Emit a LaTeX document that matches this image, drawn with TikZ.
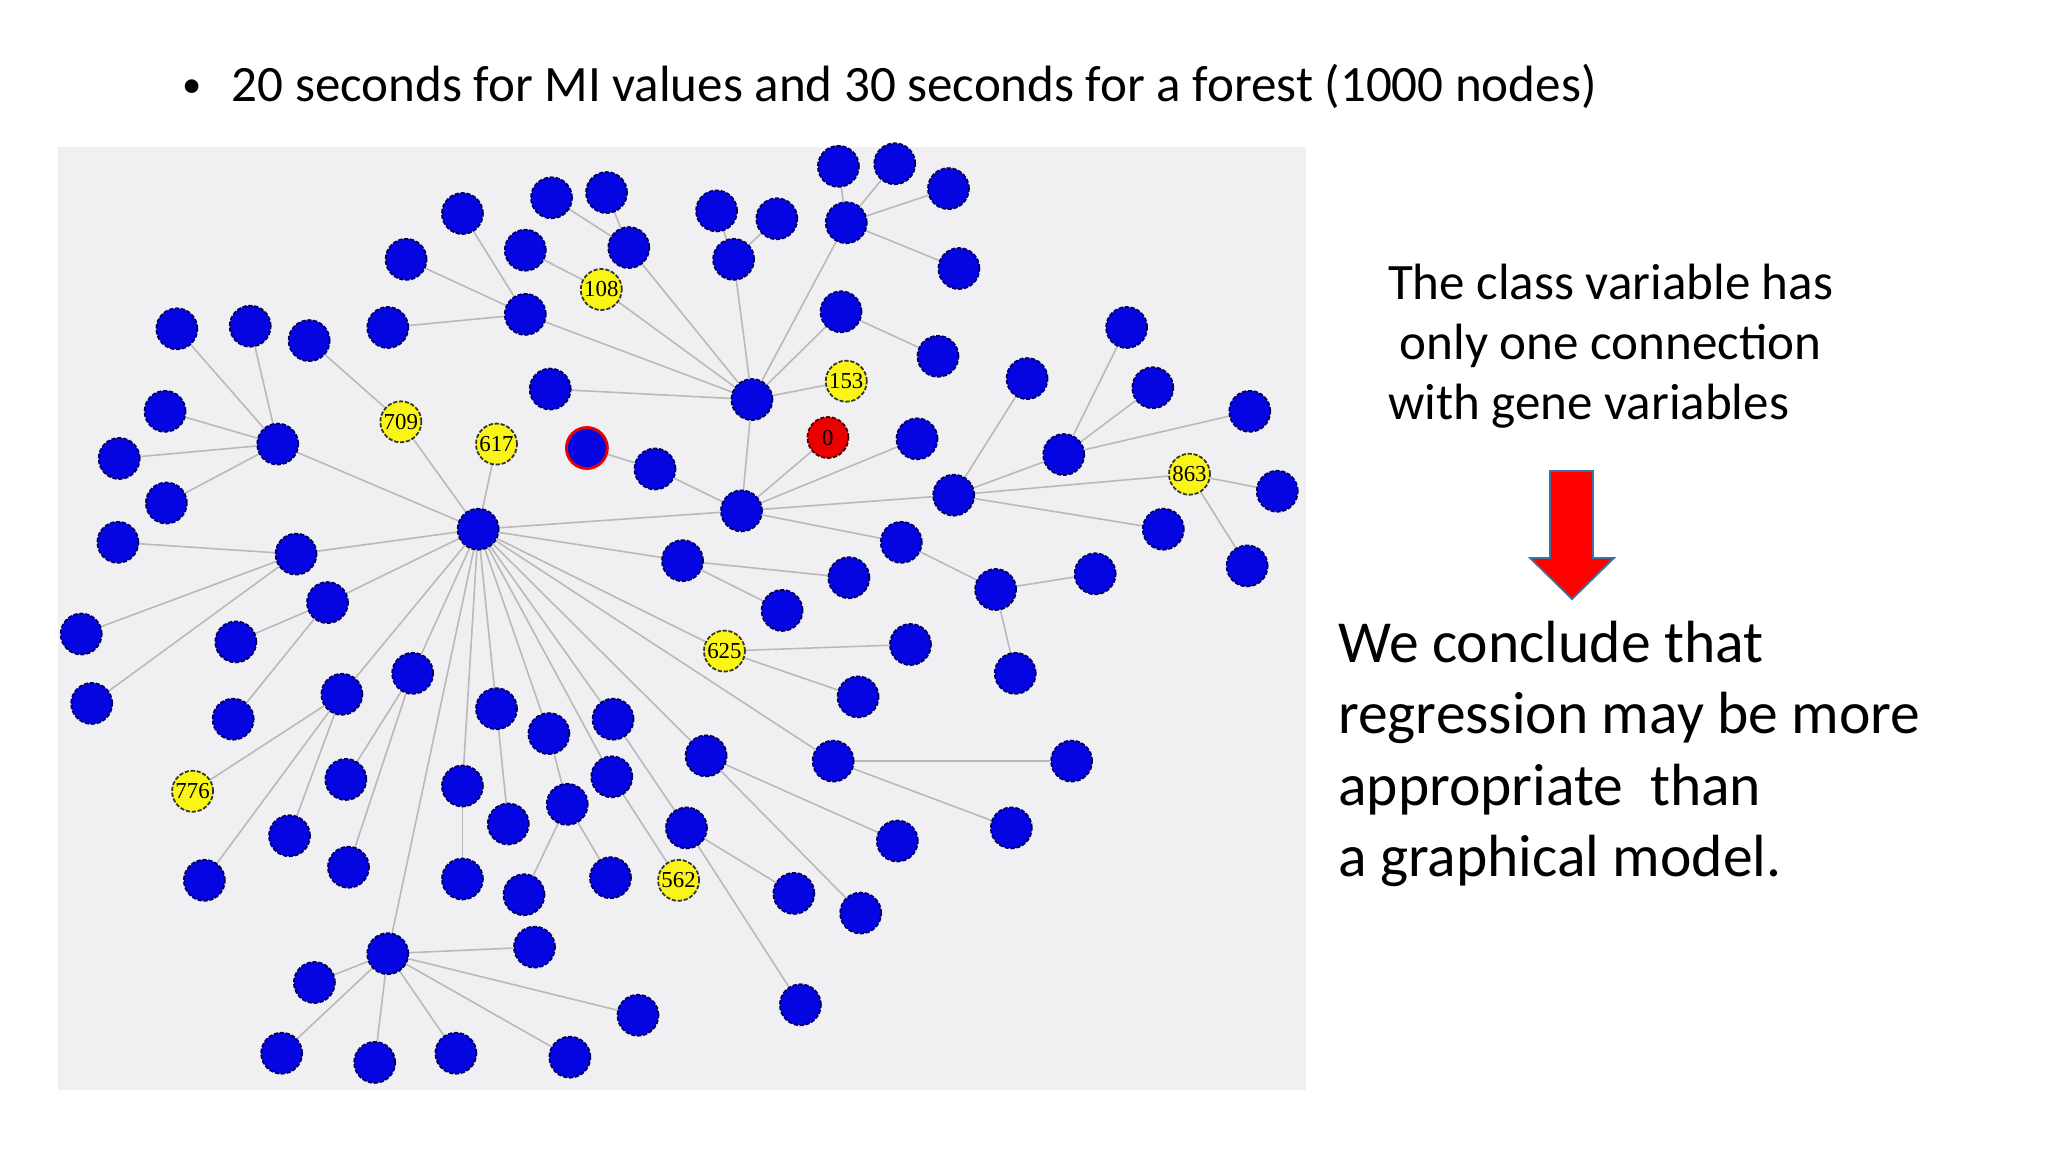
\documentclass[tikz,border=0pt]{standalone}
\usepackage{fontspec}
\setmainfont{Carlito}
\newfontfamily\gfont{Liberation Serif}
\usetikzlibrary{backgrounds}
\definecolor{nodeblue}{RGB}{5,5,225}
\definecolor{nodeedge}{RGB}{0,0,95}
\definecolor{nodeyel}{RGB}{250,245,20}
\definecolor{nodered}{RGB}{235,0,0}
\definecolor{panelgray}{RGB}{240,240,242}
\definecolor{edgegray}{RGB}{185,185,185}
\definecolor{arrowedge}{RGB}{65,113,156}
\tikzset{%
    bnodesty/.style={
        circle,
        draw=nodeedge,
        fill=nodeblue,
        dash pattern=on 1.2pt off 0.5pt,
        line width=0.5pt,
        inner sep=0pt,
        minimum size=4.1mm,
        font=\gfont\fontsize{6.5}{7}\selectfont,
    },
    ynodesty/.style={
        bnodesty,
        draw=black!80,
        fill=nodeyel,
    },
    rnodesty/.style={
        bnodesty,
        draw=black!70!red,
        fill=nodered,
    },
    ringsty/.style={
        bnodesty,
        solid,
        draw=nodered,
        line width=0.8pt,
    },
    edgesty/.style={
        draw=edgegray,
        line width=0.45pt,
    },
    txtsty/.style={
        inner sep=0pt,
        font=\fontsize{14.52}{17.07}\selectfont,
    },
    bigtxtsty/.style={
        inner sep=0pt,
        font=\fontsize{16.95}{20.28}\selectfont,
    },
}

\begin{document}
\begin{tikzpicture}[x=0.131mm,y=-0.131mm]
\useasboundingbox (0,0) rectangle (1563.36,879.39);

% hubs
\node (hA) [bnodesty] at (365,404) {};
\node (hB) [bnodesty] at (574,305) {};
\node (hC) [bnodesty] at (566,390) {};
\node (hD) [bnodesty] at (728,378) {};
\node (hE) [bnodesty] at (296,728) {};

% class variable and labelled genes
\node (g0) [rnodesty] at (632,334) {0};
\node (ring) [ringsty] at (448,342) {};
\node (g108) [ynodesty] at (459,221) {108};
\node (g153) [ynodesty] at (646,291) {153};
\node (g617) [ynodesty] at (379,339) {617};
\node (g709) [ynodesty] at (306,322) {709};
\node (g863) [ynodesty] at (908,362) {863};
\node (g625) [ynodesty] at (553,497) {625};
\node (g562) [ynodesty] at (518,672) {562};
\node (g776) [ynodesty] at (147,604) {776};

% other genes
\foreach \n/\x/\y in {b1/640/127, b2/683/125, b3/724/144, b4/646/170, b5/732/205,
    b6/547/161, b7/593/167, b8/560/198, b9/421/151, b10/463/147, b11/480/189,
    b12/401/191, b13/353/163, b14/310/198, b15/401/240, b16/296/250,
    b17/135/251, b18/191/249, b19/236/260, b20/642/238, b21/716/272,
    b23/420/297, b24/784/289, b25/860/250, b26/880/296, b27/954/314,
    b28/126/314, b29/212/339, b30/500/358, b31/700/335, b32/812/347,
    b33/975/375, b34/91/350, b35/127/384, b38/90/414, b39/226/423,
    b40/521/428, b41/688/414, b42/888/404, b43/952/432, b44/648/441,
    b45/760/450, b46/836/438, b47/250/460, b48/597/466, b49/62/484,
    b50/180/490, b51/695/492, b52/775/514, b53/315/514, b54/70/537,
    b55/261/530, b56/655/532, b57/379/541, b58/178/549, b59/419/560,
    b60/468/549, b61/539/577, b62/636/581, b63/818/581, b64/264/595,
    b65/353/600, b66/467/593, b67/433/614, b68/388/629, b69/524/632,
    b70/772/632, b71/685/642, b72/221/638, b73/266/662, b74/156/672,
    b75/353/671, b76/466/670, b77/400/683, b78/606/682, b79/657/697,
    b81/408/723, b82/240/750, b83/487/775, b84/611/767, b85/215/804,
    b86/286/811, b87/348/804, b88/435/807}
    \node (\n) [bnodesty] at (\x,\y) {};

% texts (base of a multi-line node = last line)
\node (bul) [inner sep=0pt,font=\fontsize{11}{13}\selectfont,anchor=base] at (146.3,74.6) {•};
\node (ttl) [txtsty,anchor=base west] at (176.5,77.6)
    {20 seconds for MI values and 30 seconds for a forest (1000 nodes)};
\node (cls) [txtsty,align=left,anchor=base west] at (1059,320.6)
    {The class variable has\\\hspace*{0.23em}only one connection\\with gene variables};
\node (conc) [bigtxtsty,align=left,anchor=base west] at (1021,669.1)
    {We conclude that\\regression may be more\\appropriate\ \ than\\a graphical model.};

% down arrow
\draw[fill=red,draw=arrowedge,line width=0.5pt,line join=miter]
    (1183.2,359.5) -- (1216,359.5) -- (1216,426) -- (1232,426)
    -- (1200,457.3) -- (1168,426) -- (1183.2,426) -- cycle;

\begin{scope}[on background layer]
\fill[white] (0,0) rectangle (1563.36,879.39);
\fill[panelgray] (44,112.4) rectangle (997,832.4);
% tree edges
\foreach \a/\b in {hA/g709, hA/g617, hA/b29, hA/b39, hA/b47, hA/b55, hA/b53,
    hA/hE, hA/b65, hA/b57, hA/b59, hA/b60, hA/b66, hA/b61, hA/b62, hA/g625,
    hA/b40, hA/hC,
    b29/b17, b29/b18, b29/b28, b29/b34, b29/b35,
    b39/b38, b39/b49, b39/b54, b47/b50, b47/b58, g709/b19,
    b55/g776, b55/b74, b55/b72, b53/b64, b53/b73, b65/b75, b57/b68,
    b59/b67, b67/b77, b67/b76, b60/b69, b69/b78, b69/b84, b66/g562,
    b61/b71, b61/b79, b62/b63, b62/b70, g625/b51, g625/b56, b40/b44, b40/b48,
    hE/b81, hE/b82, hE/b83, hE/b85, hE/b86, hE/b87, hE/b88,
    hC/hB, hC/b30, hC/g0, hC/b31, hC/hD, hC/b41, b30/ring,
    b41/b45, b45/b46, b45/b52,
    hD/b24, hD/b32, hD/g863, hD/b42, b32/b25, b32/b26, b32/b27,
    g863/b33, g863/b43,
    hB/b15, hB/g108, hB/b11, hB/b8, hB/b4, hB/b20, hB/g153, hB/b23,
    b15/b13, b15/b14, b15/b16, g108/b12, b11/b9, b11/b10, b8/b6, b8/b7,
    b4/b1, b4/b2, b4/b3, b4/b5, b20/b21}
    \draw[edgesty] (\a) -- (\b);
\end{scope}

\end{tikzpicture}
\end{document}
